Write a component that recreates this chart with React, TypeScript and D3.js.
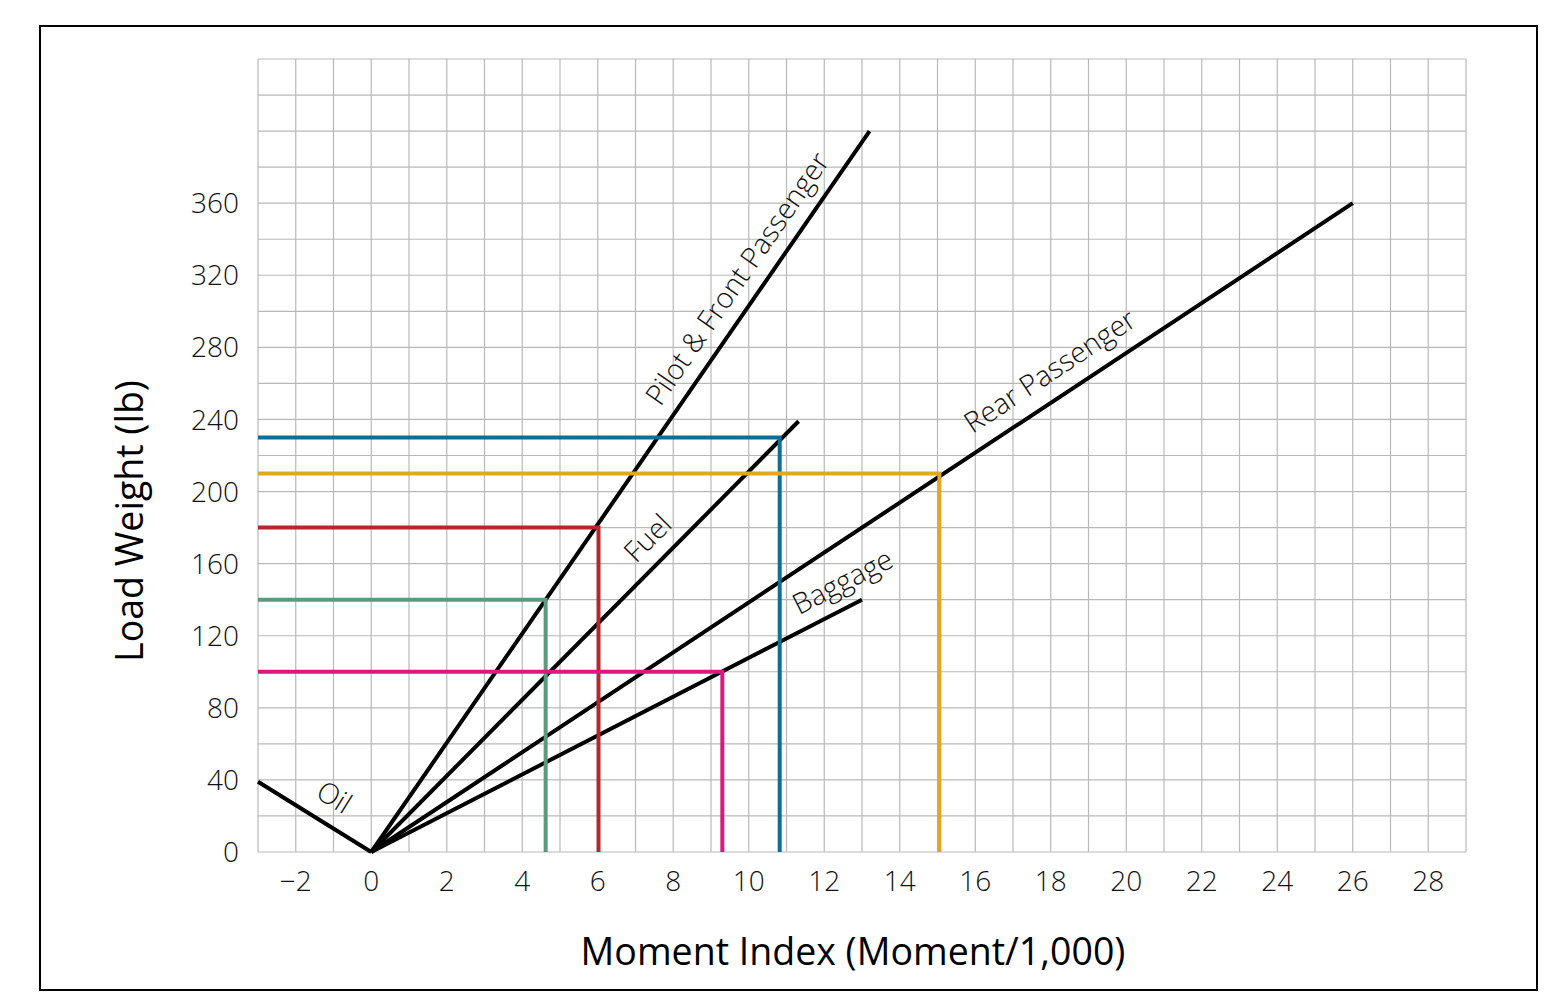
import React from 'react';
import * as d3 from 'd3';

// Axis ticks
const xTicks = [-2, 0, 2, 4, 6, 8, 10, 12, 14, 16, 18, 20, 22, 24, 26, 28];
const yTicks = [0, 40, 80, 120, 160, 200, 240, 280, 320, 360];

// Loading lines: each runs from the origin (0, 0) to its end point
const lineNames = ['Oil', 'Pilot & Front Passenger', 'Fuel', 'Rear Passenger', 'Baggage'];
const lineEndMoment = [-3, 13.2, 11.32, 26, 13];
const lineEndWeight = [39, 400, 239, 360, 140];
// weight along each line where its label starts
const labelWeight = [22.75, 242, 154, 224, 124];

// Worked examples: weight read across to a line, then down to the moment
const exampleWeights = [230, 210, 180, 140, 100];
const exampleMoments = [10.82, 15.05, 6.02, 4.62, 9.3];
const exampleColors = ['#0f6e93', '#e3a623', '#b5272d', '#5a9a7d', '#d81a80'];

const FONT = "'Open Sans', 'Noto Sans', sans-serif";

export default function App() {
  const x = d3.scaleLinear().domain([-3, 29]).range([258, 1466]);
  const y = d3.scaleLinear().domain([0, 440]).range([852, 59]);
  const fmt = d3.format('d');
  const line = d3.line<[number, number]>().x(d => x(d[0])).y(d => y(d[1]));

  const xGrid = d3.range(-3, 30, 1);
  const yGrid = d3.range(0, 441, 20);

  return (
    <svg
      width={1554}
      height={999}
      style={{ position: 'absolute', left: 0, top: 0, background: '#fff' }}
    >
      <rect x={40} y={26} width={1497} height={964} fill="none" stroke="#000" strokeWidth={2} />

      {/* grid */}
      <g stroke="#b9b9b9" strokeWidth={1.2}>
        {xGrid.map(v => (
          <line key={'gx' + v} x1={x(v)} x2={x(v)} y1={y(0)} y2={y(440)} />
        ))}
        {yGrid.map(v => (
          <line key={'gy' + v} x1={x(-3)} x2={x(29)} y1={y(v)} y2={y(v)} />
        ))}
      </g>

      {/* tick labels */}
      <g fontFamily={FONT} fontWeight={300} fontSize={28} fill="#111">
        {xTicks.map(v => (
          <text key={'tx' + v} x={x(v)} y={891} textAnchor="middle">
            {fmt(v)}
          </text>
        ))}
        {yTicks.map(v => (
          <text key={'ty' + v} x={239} y={y(v)} dy="0.36em" textAnchor="end">
            {fmt(v)}
          </text>
        ))}
      </g>

      {/* loading lines */}
      <g stroke="#000" strokeWidth={4} fill="none">
        {lineNames.map((n, i) => (
          <path key={'l' + n} d={line([[0, 0], [lineEndMoment[i], lineEndWeight[i]]]) || ''} />
        ))}
      </g>

      {/* examples */}
      <g strokeWidth={4} fill="none">
        {exampleWeights.map((w, i) => (
          <path
            key={'e' + i}
            stroke={exampleColors[i]}
            d={line([[-3, w], [exampleMoments[i], w], [exampleMoments[i], 0]]) || ''}
          />
        ))}
      </g>

      {/* line labels */}
      <g fontFamily={FONT} fontWeight={300} fontSize={28.5} fill="#111">
        {lineNames.map((n, i) => {
          const m = lineEndMoment[i];
          const w = lineEndWeight[i];
          // reading direction: left end to right end
          const [ax, ay, bx, by] =
            m < 0 ? [x(m), y(w), x(0), y(0)] : [x(0), y(0), x(m), y(w)];
          const ang = Math.atan2(by - ay, bx - ax);
          const t = labelWeight[i] / w;
          const px = x(m * t);
          const py = y(labelWeight[i]);
          const off = i === 0 || i === 3 ? 17 : 15;
          const ux = Math.sin(ang);
          const uy = -Math.cos(ang);
          return (
            <text
              key={'lab' + n}
              transform={`translate(${px + ux * off},${py + uy * off}) rotate(${(ang * 180) / Math.PI})`}
            >
              {n}
            </text>
          );
        })}
      </g>

      {/* axis titles */}
      <g fontFamily={FONT} fontSize={37.5} fill="#000">
        <text x={853} y={965} textAnchor="middle">
          Moment Index (Moment/1,000)
        </text>
        <text transform="translate(143,521) rotate(-90)" textAnchor="middle">
          Load Weight (lb)
        </text>
      </g>
    </svg>
  );
}
